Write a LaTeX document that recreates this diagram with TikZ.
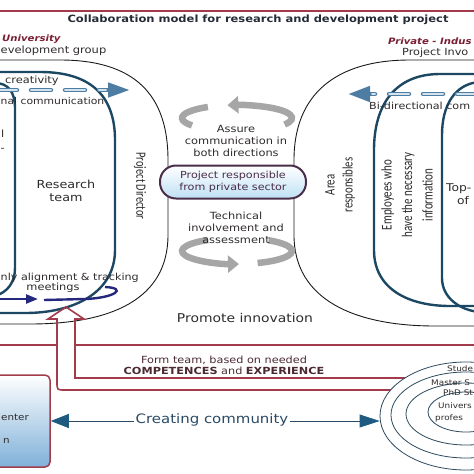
\documentclass[tikz,border=0pt]{standalone}
\usepackage{fontspec}
\setmainfont{DejaVu Sans}[FakeStretch=1.15]
\newfontfamily\cf{Carlito}
\usetikzlibrary{arrows.meta,shapes.geometric,calc}
\definecolor{tealc}{HTML}{1C4863}
\definecolor{thinc}{HTML}{1A1A1A}
\definecolor{dashc}{HTML}{4D7DA3}
\definecolor{dashl}{HTML}{D5E3EE}
\definecolor{navyc}{HTML}{25297E}
\definecolor{redc}{HTML}{A23C4D}
\definecolor{grayc}{HTML}{A6A6A6}
\definecolor{txtc}{HTML}{2E2A2B}
\definecolor{titlec}{HTML}{252C38}
\definecolor{headc}{HTML}{7A1F33}
\definecolor{capc}{HTML}{4A2D48}
\definecolor{capfill}{HTML}{BFE0F4}
\definecolor{boxblue}{HTML}{7FB0D8}
\definecolor{ellc}{HTML}{2E4A5E}
\definecolor{commc}{HTML}{2A4A66}
\definecolor{arrc}{HTML}{1F5A80}
\definecolor{formc}{HTML}{4A2A30}
\begin{document}
\begin{tikzpicture}[x=1pt,y=-1pt,
  thinl/.style={draw=thinc,line width=0.9pt},
  teall/.style={draw=tealc,line width=2.4pt},
  dasho/.style={draw=dashc,line width=4.5pt,line cap=round,dash pattern=on 20pt off 14pt},
  dashi/.style={draw=dashl,line width=2pt,line cap=round,dash pattern=on 20pt off 14pt},
  navyl/.style={draw=navyc,line width=2.4pt},
  garr/.style={draw=grayc,line width=6.5pt},
  redl/.style={draw=redc,line width=1.6pt},
  txt/.style={text=txtc,inner sep=0pt,align=center,font=\fontsize{9.9}{12}\selectfont},
  rot/.style={text=txtc,inner sep=0pt,align=center},
  ell/.style={ellipse,draw=ellc,line width=0.8pt,fill=white,inner sep=0pt},
  elltxt/.style={text=txtc,inner sep=0pt,anchor=base west,font=\fontsize{7.7}{9}\selectfont},
  capsule/.style={draw=capc,line width=2pt,rounded corners=16pt,top color=white,bottom color=capfill,
     minimum width=146pt,minimum height=33pt,inner sep=0pt,align=center,text=capc,
     font=\fontsize{9.7}{11.5}\selectfont}
]
\useasboundingbox (0,0) rectangle (474,474);
\clip (0,0) rectangle (474,474);

% top line and title
\draw[redl,line width=1.2pt] (-5,11) -- (479,11);
\node[text=titlec,inner sep=0pt,font=\fontsize{10}{11}\selectfont\bfseries] (title) at (258,20) {Collaboration model for research and development project};
\node[text=headc,inner sep=0pt,anchor=base west,font=\fontsize{8.8}{10}\selectfont\bfseries\itshape] (univ0) at (2,41) {University};
\node[text=txtc,inner sep=0pt,anchor=base west,font=\fontsize{10}{11}\selectfont] (devg) at (0.5,53) {evelopment group};
\node[text=headc,inner sep=0pt,anchor=base west,font=\fontsize{8.8}{10}\selectfont\bfseries\itshape] (priv) at (388,44) {Private - Indus};
\node[text=txtc,inner sep=0pt,anchor=base west,font=\fontsize{9.8}{11}\selectfont] (pinv) at (402,55) {Project Invo};

% left shapes
\draw[thinl] (-5,60) -- (60,60) .. controls (135,60) and (168,95) .. (168,160) -- (168,235) .. controls (168,300) and (110,324) .. (30,324) -- (-5,324);
\draw[teall] (-5,72) -- (40,72) .. controls (95,72) and (115,100) .. (115,140) -- (115,250) .. controls (115,292) and (75,313) .. (25,313) -- (-5,313);
\draw[teall] (-5,83) .. controls (8,83) and (15,92) .. (15,108) -- (15,268) .. controls (15,282) and (8,292) .. (-5,296);

% right shapes
\draw[thinl] (479,60) -- (410,60) .. controls (335,60) and (294,95) .. (294,160) -- (294,235) .. controls (294,300) and (355,326) .. (435,326) -- (479,326);
\draw[teall] (479,74) -- (440,74) .. controls (395,74) and (374,105) .. (374,150) -- (374,250) .. controls (374,290) and (410,306) .. (450,306) -- (479,306);
\draw[teall] (479,82) .. controls (455,84) and (442,105) .. (442,135) -- (442,278) .. controls (442,298) and (460,310) .. (479,312);

% dashed arrows
\coordinate (dl0) at (-3,90);
\coordinate (dl1) at (130,90);
\draw[dasho,-{Triangle[width=14pt,length=22pt]}] (dl0) -- (dl1);
\draw[dashi,shorten >=24pt] (dl0) -- (dl1);
\coordinate (dr0) at (477,94);
\coordinate (dr1) at (348,94);
\draw[dasho,-{Triangle[width=15pt,length=22pt]}] (dr0) -- (dr1);
\draw[dashi,shorten >=24pt] (dr0) -- (dr1);

% navy arrow
\coordinate (nv0) at (-5,299);
\coordinate (nv1) at (38,299);
\draw[navyl,-{Triangle[width=9pt,length=12pt]}] (nv0) -- (nv1);
\coordinate (nc0) at (44,300);
\coordinate (nc1) at (105,287);
\draw[navyl] (nc0) -- (85,299) .. controls (115,298) and (128,288) .. (nc1);

% left texts
\node[txt,anchor=base west] (crea) at (5,83) {creativity};
\node[txt,anchor=base west,font=\fontsize{9.4}{12}\selectfont] (ncom) at (0.5,104) {nal communication};
\node[txt,anchor=base west] (l1) at (1,137) {l};
\node[txt,anchor=base west] (l2) at (0.5,151) {-};
\node[rot,font=\fontsize{11.1}{13}\selectfont] (rt) at (66,191) {Research\\team};
\node[rot,rotate=-90] (pd) at (140,186) {\scalebox{1}[1.35]{\cf\fontsize{10.5}{12}\selectfont Project Director}};
\node[txt,anchor=base west,font=\fontsize{9.7}{12}\selectfont] (align) at (0.5,280) {nly alignment \& tracking};
\node[txt] (meet) at (53,288) {meetings};

% right texts
\node[txt,anchor=base west,font=\fontsize{9.7}{12}\selectfont] (bidi) at (369,109) {Bi-directional com};
\node[rot,rotate=90] (area) at (340,185) {\scalebox{1}[1.35]{\cf\fontsize{10.8}{13.3}\selectfont\begin{tabular}{@{}c@{}}Area\\responsibles\end{tabular}}};
\node[rot,rotate=90] (emp) at (408,195) {\scalebox{1}[1.35]{\cf\fontsize{11}{15.2}\selectfont\begin{tabular}{@{}c@{}}Employees who\\have the necessary\\information\end{tabular}}};
\node[rot,anchor=base west,font=\fontsize{10.7}{13}\selectfont] (top1) at (446,191) {Top-};
\node[rot,anchor=base west,font=\fontsize{10.7}{13}\selectfont] (top2) at (457,204) {of};

% middle
\draw[garr,-{Triangle[width=17pt,length=11pt]}] (284.6,124.5) arc[start angle=30,end angle=-100,x radius=55,y radius=13];
\draw[garr] (207.9,107.0) arc[start angle=-122,end angle=-215,x radius=55,y radius=13];
\draw[garr,-{Triangle[width=17pt,length=11pt]}] (207.9,240.0) arc[start angle=-122,end angle=-272,x radius=55,y radius=13];
\draw[garr] (257.6,263.0) arc[start angle=-292,end angle=-415,x radius=55,y radius=13];
\node[txt] (assure) at (236,141) {Assure\\communication in\\both directions};
\node[capsule] (resp) at (233,182) {Project responsible\\from private sector};
\node[txt] (tech) at (236,228) {Technical\\involvement and\\assessment};

% bottom
\node[rot,font=\fontsize{12.1}{13}\selectfont] (promo) at (245,318) {Promote innovation};
\draw[redl] (-5,345) -- (57,345);
\draw[redl] (75,345) -- (479,345);
\draw[redl] (420,390) -- (65,390) .. controls (57,390) .. (57,382) -- (57,319) -- (48,319) -- (66,307) -- (84,319) -- (75,319) -- (75,378) -- (420,378);
\node[inner sep=0pt,align=center,text=formc,font=\fontsize{9.8}{11}\selectfont] (form) at (224,365) {Form team, based on needed\\\textbf{COMPETENCES} and \textbf{EXPERIENCE}};

\node[draw=redc,line width=1.5pt,rounded corners=5pt,top color=white,bottom color=boxblue,minimum width=70pt,minimum height=92pt,inner sep=0pt] (box) at (15,421) {};
\node[txt,anchor=base west,font=\fontsize{9}{12}\selectfont] (boxt1) at (1,420) {enter};
\node[txt,anchor=base west,font=\fontsize{9}{12}\selectfont] (boxt2) at (3,443) {n};

\node[ell,minimum width=172pt,minimum height=108pt] (stud) at (466,416) {};
\node[ell,minimum width=150pt,minimum height=86pt] (mast) at (466,415) {};
\node[ell,minimum width=120pt,minimum height=62pt] (phd) at (466,414) {};
\node[ell,minimum width=76pt,minimum height=40pt] (univ) at (466,412) {};
\node[elltxt] (st1) at (447,371.5) {Stude};
\node[elltxt] (st2) at (431,385.5) {Master S};
\node[elltxt] (st3) at (443,395.5) {PhD St};
\node[elltxt] (st4) at (438,408) {Univers};
\node[elltxt] (st5) at (435,420) {profes};

\draw[draw=commc,line width=0.8pt,{Triangle[width=14pt,length=18pt,color=arrc]}-{Triangle[width=13pt,length=20pt,color=arrc]}] (box.east) -- (box.east -| stud.west);
\node[fill=white,inner sep=2pt,text=commc,font=\fontsize{13}{14}\selectfont] (comm) at (212,420) {Creating community};
\end{tikzpicture}
\end{document}
